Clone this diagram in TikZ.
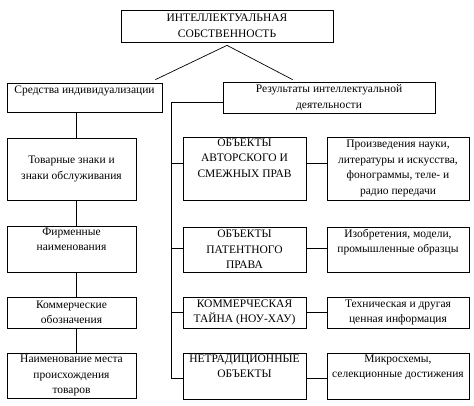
\documentclass[tikz,border=0pt]{standalone}
\usepackage{fontspec}
\setmainfont{Liberation Serif}
\usetikzlibrary{positioning}
\tikzset{
  box/.style = {draw, line width=0.7pt, inner sep=0pt, align=center, minimum width=129pt},
  txt/.style = {inner sep=0pt, align=center},
  line/.style = {line width=0.7pt}
}

\begin{document}
\begin{tikzpicture}[x=1pt, y=-1pt, font=\fontsize{11.5}{15.5}\selectfont]
  \useasboundingbox (0,0) rectangle (474,405);

  %top of the tree
  \node[box, minimum width=212pt, minimum height=32pt] (top) at (227,26) {ИНТЕЛЛЕКТУАЛЬНАЯ\\СОБСТВЕННОСТЬ};
  \node[box, minimum width=155pt, minimum height=29pt] (sred) at (84.5,97.5) {};
  \node[txt, below=3pt of sred.north] (sred-t) {Средства индивидуализации};
  \node[box, minimum width=212pt, minimum height=31pt] (rez) at (329,97.5) {Результаты интеллектуальной\\деятельности};

  \draw[line] ([yshift=-3pt]top.south) -- ([xshift=-7pt,yshift=3pt]sred.north east);
  \draw[line] ([yshift=-3pt]top.south) -- ([xshift=70pt,yshift=2pt]rez.north west);

  %left column
  \node[box, minimum height=62pt] (zn) at (71.5,169) {Товарные знаки и\\знаки обслуживания};
  \node[box, minimum height=46pt] (firm) at (71.5,249) {};
  \node[txt, below=2pt of firm.north] (firm-t) {Фирменные\\наименования};
  \node[box, minimum height=31pt] (kom) at (71.5,312.5) {Коммерческие\\обозначения};
  \node[box, minimum height=45pt] (mest) at (71.5,375.5) {Наименование места\\происхождения\\товаров};

  \draw[line] ([xshift=4.5pt]zn.north) -- ([xshift=4.5pt]zn.north |- sred.south);
  \draw[line] ([xshift=4.5pt]firm.north) -- ([xshift=4.5pt]zn.south);
  \draw[line] ([xshift=4.5pt]kom.north) -- ([xshift=4.5pt]firm.south);
  \draw[line] ([xshift=4.5pt]mest.north) -- ([xshift=4.5pt]kom.south);

  %middle column
  \node[box, minimum width=123pt, minimum height=63pt] (avt) at (244.5,168.5) {};
  \node[txt, below=2pt of avt.north] (avt-t) {ОБЪЕКТЫ\\АВТОРСКОГО И\\СМЕЖНЫХ ПРАВ};
  \node[box, minimum width=123pt, minimum height=45pt] (pat) at (244.5,249.5) {ОБЪЕКТЫ\\ПАТЕНТНОГО\\ПРАВА};
  \node[box, minimum width=123pt, minimum height=31pt] (tai) at (244.5,312.5) {КОММЕРЧЕСКАЯ\\ТАЙНА (НОУ-ХАУ)};
  \node[box, minimum width=123pt, minimum height=46pt] (netr) at (244.5,376) {};
  \node[txt, below=2pt of netr.north] (netr-t) {НЕТРАДИЦИОННЫЕ\\ОБЪЕКТЫ};

  %right column
  \node[box, minimum width=142pt, minimum height=63pt] (proiz) at (398,168.5) {Произведения науки,\\литературы и искусства,\\фонограммы, теле- и\\радио передачи};
  \node[box, minimum width=142pt, minimum height=45pt] (izob) at (398,249.5) {};
  \node[txt, below=2pt of izob.north] (izob-t) {Изобретения, модели,\\промышленные образцы};
  \node[box, minimum width=142pt, minimum height=31pt] (tehn) at (398,312.5) {Техническая и другая\\ценная информация};
  \node[box, minimum width=142pt, minimum height=46pt] (mikr) at (398,376) {};
  \node[txt, below=2pt of mikr.north] (mikr-t) {Микросхемы,\\селекционные достижения};

  %connection points
  \coordinate (trunk) at (171,102);
  \coordinate (c-rez) at ([yshift=-4.5pt]rez.west);
  \coordinate (c-avt) at ([yshift=5.5pt]avt.west);
  \coordinate (c-pat) at ([yshift=1.5pt]pat.west);
  \coordinate (c-netr) at ([yshift=-2pt]netr.west);

  %trunk on the right
  \draw[line] (c-rez) -| (trunk |- c-netr) -- (c-netr);
  \draw[line] (trunk |- c-avt) -- (c-avt);
  \draw[line] (trunk |- c-pat) -- (c-pat);
  \draw[line] (trunk |- tai.west) -- (tai.west);

  \draw[line] (c-avt -| avt.east) -- (c-avt -| proiz.west);
  \draw[line] (c-pat -| pat.east) -- (c-pat -| izob.west);
  \draw[line] (tai.east) -- (tehn.west);
  \draw[line] (c-netr -| netr.east) -- (c-netr -| mikr.west);
\end{tikzpicture}
\end{document}
